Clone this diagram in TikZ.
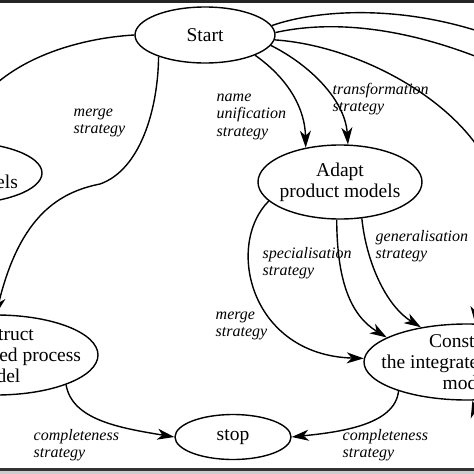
\documentclass[tikz,border=0pt]{standalone}
\usepackage{fontspec}
\setmainfont{Liberation Serif}
\usetikzlibrary{shapes.geometric,positioning,arrows.meta}

\newcommand\lbltext[1]{\begin{tabular}[t]{@{}l@{}}#1\end{tabular}}

\begin{document}
\begin{tikzpicture}[x=1pt,y=-1pt,line width=1.4pt,
    >={Stealth[length=17pt,width=11pt,inset=5pt]},node distance=3cm,on grid,
    proc/.style={draw,ellipse,inner sep=0pt,align=center,font=\fontsize{19.5}{21}\selectfont},
    ptext/.style={align=center,inner sep=0pt,font=\fontsize{19.5}{21}\selectfont},
    lbl/.style={anchor=base west,inner sep=0pt,font=\fontsize{16}{17.5}\selectfont\itshape}]
  \useasboundingbox (0,0) rectangle (474,474);
  \clip (0,0) rectangle (474,474);

  % process steps
  \node[proc,minimum width=140pt,minimum height=56pt] (start) at (205,35) {Start};
  \node[proc,minimum width=164pt,minimum height=74pt] (adapt) [below right=147pt and 135pt of start]
    [label={[ptext]center:{Adapt\\product models}}] {};
  \node[proc,minimum width=168pt,minimum height=62pt] (adaptproc) [below left=138pt and 247pt of start]
    [label={[ptext]center:{Adapt\\process models}}] {};
  \node[proc,minimum width=204pt,minimum height=80pt] (intproc) [below right=182pt and 38pt of adaptproc]
    [label={[ptext]center:{Construct\\the integrated process\\model}}] {};
  \node[proc,minimum width=206pt,minimum height=76pt] (intprod) [below right=180pt and 127pt of adapt]
    [label={[ptext]center:{Construct\\the integrated product\\model}}] {};
  \node[proc,minimum width=116pt,minimum height=45pt] (stop) [below left=255pt and 107pt of adapt] {stop};

  % strategies
  \draw[->] (start.west) .. controls (80,38) and (-10,60) .. (adaptproc.north);
  \draw[->] (start.205) .. controls (158,110) and (140,170) .. (100,184)
            .. controls (60,192) and (20,215) .. (intproc.north);
  \draw[->] (start.-22) .. controls (290,80) and (305,110) .. (adapt.135);
  \draw[->] (start.-9) .. controls (310,65) and (345,100) .. (adapt.78);
  \draw[->] (start.8) .. controls (330,5) and (460,0) .. (580,80)
            .. controls (620,200) and (490,480) .. (intprod.-82);
  \draw[->] (start.2) .. controls (340,18) and (450,25) .. (600,120)
            .. controls (640,200) and (620,362) .. (intprod.east);
  \draw[->] (start.-4) .. controls (350,45) and (440,90) .. (480,150)
            .. controls (500,190) and (478,260) .. (intprod.78);
  \draw[->] (adapt.-59) .. controls (366,260) and (385,305) .. (intprod.143);
  \draw[->] (adapt.-95) .. controls (337,280) and (350,315) .. (intprod.163);
  \draw[->] (adapt.195) .. controls (225,245) and (250,355) .. (intprod.178);
  \draw[->] (intproc.-23) .. controls (72,420) and (120,428) .. (stop.west);
  \draw[->] (intprod.203) .. controls (395,425) and (340,432) .. (stop.east);

  % labels
  \node[lbl] (lmerge) at (73,116) {\lbltext{merge\\strategy}};
  \node[lbl] (lname) at (216,101) {\lbltext{name\\unification\\strategy}};
  \node[lbl] (ltrans) at (332,94) {\lbltext{transformation\\strategy}};
  \node[lbl] (lspec) at (262,258) {\lbltext{specialisation\\strategy}};
  \node[lbl] (lgen) at (375,241) {\lbltext{generalisation\\strategy}};
  \node[lbl] (lmergeb) at (215,319) {\lbltext{merge\\strategy}};
  \node[lbl] (lcomplete) at (33,440) {\lbltext{completeness\\strategy}};
  \node[lbl] (lcompleteb) at (342,440) {\lbltext{completeness\\strategy}};

  % frame edges of the scan
  \fill[black!85] (0,0) rectangle (474,3);
  \fill[black!80] (0,467.5) rectangle (474,470.5);
  \fill[black!20] (0,470.5) rectangle (474,474);
\end{tikzpicture}
\end{document}
